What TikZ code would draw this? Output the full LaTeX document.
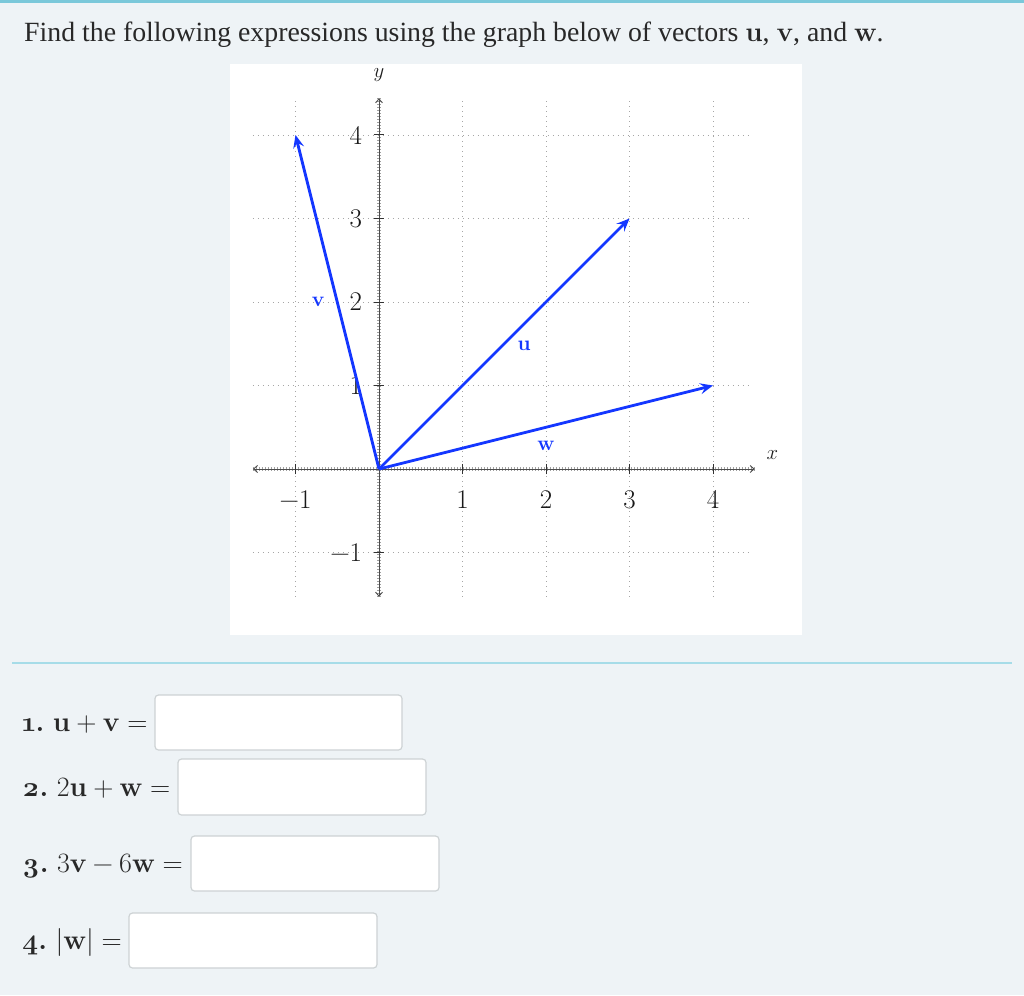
\documentclass[tikz,border=0pt]{standalone}
\usepackage[no-math]{fontspec}
\setmainfont{Liberation Serif}
\newfontfamily\lm{Latin Modern Roman}
\newfontfamily\lmos[Numbers=OldStyle]{Latin Modern Roman}
\usetikzlibrary{arrows.meta}
\definecolor{bgc}{RGB}{238,243,246}
\definecolor{topc}{RGB}{122,200,218}
\definecolor{sepc}{RGB}{166,220,232}
\definecolor{vblue}{RGB}{20,55,255}
\definecolor{boxc}{RGB}{205,210,212}
\definecolor{txt}{RGB}{40,40,40}
\tikzset{
  gridline/.style={gray!70, line width=0.9pt, dash pattern=on 0.9pt off 4.1pt},
  axishatch/.style={gray!75, line width=3.2pt, dash pattern=on 0.7pt off 2.3pt},
  axisarrow/.style={black!70, line width=0.9pt, {Straight Barb[length=4pt,width=7pt]}-{Straight Barb[length=4pt,width=7pt]}},
  tickmark/.style={black!80, line width=1pt},
  ticklab/.style={font=\lm\fontsize{27}{27}\selectfont, text=black!90, inner sep=0pt},
  axlab/.style={font=\fontsize{21}{21}\selectfont, text=black!88, inner sep=0pt},
  vec/.style={vblue, line width=2.8pt, -{Stealth[length=13pt,width=11pt,inset=5pt]}},
  veclab/.style={font=\lm\bfseries\fontsize{21}{21}\selectfont, text=vblue, inner sep=0pt},
  ansbox/.style={draw=boxc, fill=white, line width=1.2pt, rounded corners=3.5pt},
  anslab/.style={font=\lm\fontsize{28}{28}\selectfont, text=txt, anchor=base west, inner sep=0pt},
}
\newcommand{\qnum}[1]{{\lmos\bfseries #1.}\hspace{0.3em}}
\newcommand{\bv}[1]{{\bfseries #1}}
\newcommand{\bop}[1]{\hspace{0.222em}#1\hspace{0.222em}}
\newcommand{\rel}[1]{\hspace{0.278em}#1}
\begin{document}
\begin{tikzpicture}[x=1pt,y=-1pt]
\useasboundingbox (0,0) rectangle (1024,995);
\fill[bgc] (0,0) rectangle (1024,995);
\fill[topc] (0,0) rectangle (1024,3);
\node[anchor=west, inner sep=0pt, text=txt, font=\fontsize{27.8}{28}\selectfont] (title) at (24,35)
  {Find the following expressions using the graph below of vectors {\lm\bfseries u}, {\lm\bfseries v}, and {\lm\bfseries w}.};
\fill[white] (230,64) rectangle (802,635);
\draw[sepc, line width=1.2pt] (12,663) -- (1012,663);

\begin{scope}[shift={(379pt,-469pt)}, x=83.5pt, y=83.5pt]
  \foreach \i in {-1,1,2,3,4} \draw[gridline] (\i,-1.53) -- (\i,4.43);
  \foreach \j in {-1,1,2,3,4} \draw[gridline] (-1.51,\j) -- (4.45,\j);
  \coordinate (xl) at (-1.51,0);
  \coordinate (xr) at (4.5,0);
  \coordinate (yb) at (0,-1.53);
  \coordinate (yt) at (0,4.44);
  \draw[axishatch] (xl) -- (xr);
  \draw[axishatch] (yb) -- (yt);
  \draw[axisarrow] (xl) -- (xr);
  \draw[axisarrow] (yb) -- (yt);
  \foreach \i in {-1,1,2,3,4} {
    \draw[tickmark] (\i,-0.065) -- (\i,0.065);
    \draw[tickmark] (-0.065,\i) -- (0.065,\i);
  }
  \node[ticklab] (xm1) at (-1.0,-0.37) {−1};
  \foreach \i in {1,2,3,4} \node[ticklab] (x\i) at (\i,-0.37) {\i};
  \node[ticklab, anchor=east] (ym1) at (-0.2,-1) {−1};
  \foreach \i in {1,2,3,4} \node[ticklab, anchor=east] (y\i) at (-0.2,\i) {\i};
  \node[axlab] (ylab) at (0,4.72) {$y$};
  \node[axlab] (xlab) at (4.71,0.17) {$x$};
  \coordinate (O) at (0,0);
  \coordinate (U) at (3,3);
  \coordinate (V) at (-1,4);
  \coordinate (W) at (4,1);
  \draw[vec] (O) -- (U);
  \draw[vec] (O) -- (V);
  \draw[vec] (O) -- (W);
  \node[veclab] (vl) at (-0.73,2.0) {v};
  \node[veclab] (ul) at (1.74,1.48) {u};
  \node[veclab] (wl) at (2.0,0.28) {w};
\end{scope}

\draw[ansbox] (155,695) rectangle (402,750);
\draw[ansbox] (178,759) rectangle (426,815);
\draw[ansbox] (191,836) rectangle (439,891);
\draw[ansbox] (129,913) rectangle (377,968);
\node[anslab] (a1) at (22,731) {\qnum{1}\bv{u}\bop{+}\bv{v}\rel{=}};
\node[anslab] (a2) at (22,796) {\qnum{2}2\bv{u}\bop{+}\bv{w}\rel{=}};
\node[anslab] (a3) at (22,872) {\qnum{3}3\bv{v}\bop{−}6\bv{w}\rel{=}};
\node[anslab] (a4) at (22,949) {\qnum{4}|\bv{w}|\rel{=}};
\end{tikzpicture}
\end{document}
